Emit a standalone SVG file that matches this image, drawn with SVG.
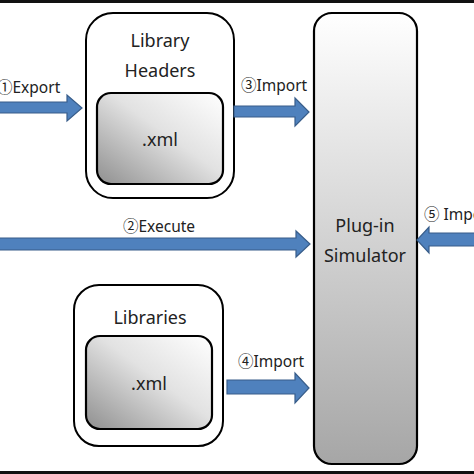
<svg xmlns="http://www.w3.org/2000/svg" width="474" height="474" viewBox="0 0 474 474">
<defs>
<linearGradient id="gXml" x1="0" y1="1" x2="1" y2="0">
<stop offset="0" stop-color="#8f8f8f"/>
<stop offset="0.55" stop-color="#e2e2e2"/>
<stop offset="1" stop-color="#ffffff"/>
</linearGradient>
<linearGradient id="gSim" x1="0" y1="0" x2="0" y2="1">
<stop offset="0" stop-color="#ffffff"/>
<stop offset="1" stop-color="#a6a6a6"/>
</linearGradient>
<style>
.outer{fill:#ffffff;stroke:#000000;stroke-width:2}
.inner{fill:url(#gXml);stroke:#000000;stroke-width:2.2}
.sim{fill:url(#gSim);stroke:#000000;stroke-width:2.2}
.t{font-family:"Noto Sans","Noto Sans CJK KR",sans-serif;font-size:18px;fill:#222;text-anchor:middle}
.lbl{font-family:"Noto Sans","Noto Sans CJK KR",sans-serif;font-size:15.5px;fill:#222}
.arr{fill:#4f81bd;stroke:#385d8a;stroke-width:1.2}
.bar{fill:#111111}
</style>
</defs>
<rect width="474" height="474" fill="#ffffff"/>
<rect class="bar" x="0" y="0" width="474" height="3"/>
<rect class="bar" x="0" y="471" width="474" height="3"/>

<g id="library-headers">
<rect class="outer" x="86" y="13" width="148" height="185" rx="27"/>
<text class="t" x="160" y="47">Library</text>
<text class="t" x="160" y="77">Headers</text>
<rect class="inner" x="97" y="93" width="126" height="91" rx="14"/>
<text class="t" x="160" y="146">.xml</text>
</g>

<g id="libraries">
<rect class="outer" x="74" y="285" width="149" height="161" rx="25"/>
<text class="t" x="150" y="324">Libraries</text>
<rect class="inner" x="86" y="336" width="126" height="93" rx="14"/>
<text class="t" x="149" y="390">.xml</text>
</g>

<g id="plugin-simulator">
<rect class="sim" x="314" y="13" width="103" height="451" rx="18"/>
<text class="t" x="365" y="232">Plug-in</text>
<text class="t" x="365" y="262">Simulator</text>
</g>

<g id="connectors">
<polygon class="arr" points="-2,102 67,102 67,95 82,108 67,121 67,113 -2,113"/>
<text class="lbl" x="-3" y="93">①Export</text>
<polygon class="arr" points="234,106 295,106 295,98 309,112 295,126 295,117 234,117"/>
<text class="lbl" x="241" y="91">③Import</text>
<polygon class="arr" points="-2,238 296,238 296,231 310,244 296,257 296,250 -2,250"/>
<text class="lbl" x="123" y="232">②Execute</text>
<polygon class="arr" points="476,233 429,233 429,227 417,240 429,253 429,246 476,246"/>
<text class="lbl" x="424" y="220">⑤ Import</text>
<polygon class="arr" points="227,380 295,380 295,373 309,388 295,403 295,394 227,394"/>
<text class="lbl" x="238" y="367">④Import</text>
</g>
</svg>
